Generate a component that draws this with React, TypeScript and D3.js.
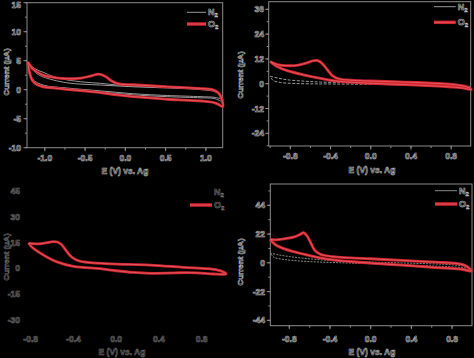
import React from "react";
import * as d3 from "d3";

// ---------- data (E in V, current in µA) ----------
const p1XTicks = [-1.0, -0.5, 0.0, 0.5, 1.0];
const p1YTicks = [-10, -5, 0, 5, 10, 15];
const p2XTicks = [-0.8, -0.4, 0.0, 0.4, 0.8];
const p2YTicks = [-24, -12, 0, 12, 24, 36];
const p3XTicks = [-0.8, -0.4, 0.0, 0.4, 0.8];
const p3YTicks = [-30, -15, 0, 15, 30, 45];
const p4XTicks = [-0.8, -0.4, 0.0, 0.4, 0.8];
const p4YTicks = [-44, -22, 0, 22, 44];

const p1O2: [number, number][] = [
  [-1.21, 4.8], [-1.15, 3.6], [-1.02, 2.5], [-0.88, 2.1], [-0.73, 1.9], [-0.55, 2.0], [-0.42, 2.4],
  [-0.33, 2.7], [-0.25, 2.3], [-0.17, 1.5], [-0.08, 1.0], [0.1, 0.85], [0.3, 0.7], [0.52, 0.5],
  [0.75, 0.35], [0.94, 0.2], [1.08, 0.0], [1.16, -0.6], [1.2, -1.8], [1.21, -2.9],
  [1.12, -2.3], [0.94, -1.95], [0.72, -1.8], [0.52, -1.65], [0.3, -1.4], [0.1, -1.2], [-0.1, -0.9],
  [-0.31, -0.5], [-0.52, -0.2], [-0.73, 0.05], [-0.9, 0.3], [-1.02, 0.5], [-1.1, 0.9], [-1.15, 1.5],
  [-1.19, 3.0], [-1.21, 4.8],
];
const p1N2a: [number, number][] = [
  [-1.21, 4.8], [-1.12, 3.6], [-1.02, 3.0], [-0.88, 2.2], [-0.73, 1.7], [-0.5, 1.3], [-0.31, 1.1],
  [-0.1, 0.8], [0.1, 0.6], [0.52, 0.4], [0.94, 0.1], [1.12, -0.2], [1.18, -0.8], [1.21, -2.0],
  [1.1, -1.5], [0.94, -1.4], [0.52, -1.2], [0.1, -0.9], [-0.31, -0.4], [-0.73, 0.1], [-1.02, 0.6],
  [-1.15, 1.6], [-1.21, 4.8],
];
const p1N2b: [number, number][] = [
  [-1.21, 4.2], [-1.1, 2.8], [-1.02, 2.2], [-0.73, 1.2], [-0.31, 0.8], [0.1, 0.5], [0.52, 0.3],
  [0.94, 0.0], [1.12, -0.4], [1.2, -1.5], [1.1, -1.3], [0.94, -1.2], [0.52, -1.0], [0.1, -0.7],
  [-0.31, -0.2], [-0.73, 0.3], [-1.02, 0.8], [-1.15, 1.8], [-1.21, 4.2],
];

const p2O2: [number, number][] = [
  [-1.0, 10.8], [-0.95, 9.6], [-0.9, 9.0], [-0.8, 8.7], [-0.72, 9.0], [-0.64, 10.0], [-0.58, 11.0],
  [-0.54, 11.3], [-0.5, 10.5], [-0.46, 8.5], [-0.42, 6.0], [-0.38, 3.8], [-0.32, 2.4], [-0.2, 1.7],
  [0.0, 1.3], [0.33, 0.8], [0.67, 0.1], [0.83, -0.4], [0.93, -1.2], [0.98, -2.0], [1.0, -2.9],
  [0.93, -2.2], [0.8, -1.6], [0.67, -1.2], [0.33, -0.4], [0.0, 0.2], [-0.33, 1.2], [-0.5, 2.6],
  [-0.67, 4.3], [-0.83, 6.3], [-0.94, 8.5], [-1.0, 10.8],
];
const p2N2: [number, number][] = [
  [-1.0, 3.6], [-0.92, 2.7], [-0.83, 1.9], [-0.65, 1.2], [-0.5, 0.8], [-0.25, 0.5], [0.0, 0.3],
  [0.4, 0.1], [0.8, -0.4], [0.95, -1.0], [1.0, -1.8], [0.9, -1.4], [0.6, -0.9], [0.2, -0.5],
  [-0.2, -0.2], [-0.5, -0.1], [-0.75, 0.1], [-0.9, 0.6], [-0.97, 1.6], [-1.0, 3.6],
];

const p3O2: [number, number][] = [
  [-0.82, 14.8], [-0.78, 14.4], [-0.72, 14.3], [-0.65, 15.0], [-0.59, 15.6], [-0.55, 15.4],
  [-0.51, 13.8], [-0.47, 10.5], [-0.42, 6.8], [-0.36, 4.6], [-0.27, 3.5], [-0.1, 2.8], [0.01, 2.5],
  [0.32, 1.9], [0.63, 0.6], [0.85, -0.2], [0.95, -1.0], [1.0, -2.0], [1.03, -3.3], [0.91, -3.3],
  [0.75, -2.6], [0.55, -2.6], [0.32, -2.9], [0.16, -2.4], [0.0, -1.4], [-0.15, -0.2], [-0.4, 1.2],
  [-0.56, 3.9], [-0.71, 8.9], [-0.79, 12.5], [-0.82, 14.8],
];
const p3N2: [number, number][] = [
  [-0.82, 5.0], [-0.6, 2.0], [-0.2, 0.8], [0.4, 0.0], [0.9, -1.0], [1.03, -2.0], [0.6, -1.2],
  [0.0, -0.6], [-0.5, 0.2], [-0.82, 5.0],
];

const p4O2: [number, number][] = [
  [-0.99, 17.9], [-0.93, 17.6], [-0.85, 18.4], [-0.76, 19.6], [-0.7, 21.5], [-0.66, 23.0],
  [-0.63, 21.0], [-0.59, 15.5], [-0.55, 9.5], [-0.5, 6.8], [-0.45, 5.6], [-0.35, 4.6], [-0.2, 3.8],
  [0.0, 3.1], [0.31, 1.8], [0.64, 0.5], [0.84, -0.5], [0.92, -1.8], [0.96, -3.6], [0.99, -6.4],
  [0.91, -5.1], [0.64, -3.6], [0.31, -1.8], [0.0, -0.2], [-0.35, 2.0], [-0.51, 4.0], [-0.67, 6.8],
  [-0.84, 10.5], [-0.94, 14.0], [-0.99, 17.9],
];
const p4N2: [number, number][] = [
  [-0.99, 7.5], [-0.9, 6.0], [-0.8, 4.8], [-0.67, 3.6], [-0.5, 2.4], [-0.35, 1.6], [0.0, 0.6],
  [0.4, -0.3], [0.8, -1.5], [0.95, -3.0], [0.99, -4.5], [0.9, -3.6], [0.6, -2.4], [0.2, -1.2],
  [-0.2, -0.2], [-0.5, 0.6], [-0.7, 1.4], [-0.85, 2.6], [-0.95, 4.2], [-0.99, 7.5],
];

const xTitle = "E (V) vs. Ag";
const yTitle = "Current (μA)";

// ---------- layout ----------
type Panel = {
  l: number; r: number; t: number; b: number;
  xd: [number, number]; yd: [number, number];
  xt: number[]; yt: number[]; xMinor: number; yMinor: number;
  o2: [number, number][]; n2: [number, number][][];
  frame: boolean; dim: boolean; n2Color: string; n2Dash?: string;
  xTitle: [number, number]; yTitle: [number, number];
  leg: { x0: number; x1: number; y: number; gap: number };
  tickY: number; labelRight: number;
};

const panels: Panel[] = [
  {
    l: 27, r: 222.7, t: 2.7, b: 147.7, xd: [-1.221, 1.209], yd: [-10, 15],
    xt: p1XTicks, yt: p1YTicks, xMinor: 0.25, yMinor: 2.5,
    o2: p1O2, n2: [p1N2a, p1N2b], frame: true, dim: false, n2Color: "#9a9a9a",
    xTitle: [125, 173.5], yTitle: [6, 72], leg: { x0: 187, x1: 206, y: 12.3, gap: 11.7 },
    tickY: 161, labelRight: 21,
  },
  {
    l: 268.7, r: 470.7, t: 1.7, b: 146, xd: [-1.015, 0.994], yd: [-30.14, 39.68],
    xt: p2XTicks, yt: p2YTicks, xMinor: 0.2, yMinor: 6,
    o2: p2O2, n2: [p2N2], frame: true, dim: false, n2Color: "#9a9a9a", n2Dash: "3,1.5",
    xTitle: [372, 173], yTitle: [240, 75], leg: { x0: 434, x1: 455.7, y: 6.7, gap: 15.6 },
    tickY: 159, labelRight: 264,
  },
  {
    l: 26, r: 228, t: 184, b: 326, xd: [-0.844, 1.047], yd: [-33.7, 49.3],
    xt: p3XTicks, yt: p3YTicks, xMinor: 0.2, yMinor: 7.5,
    o2: p3O2, n2: [p3N2], frame: false, dim: true, n2Color: "#000",
    xTitle: [122, 355], yTitle: [6, 257], leg: { x0: 190, x1: 212, y: 192.3, gap: 12.7 },
    tickY: 342, labelRight: 20,
  },
  {
    l: 270.3, r: 472, t: 184, b: 325.7, xd: [-0.987, 0.996], yd: [-48.1, 60.3],
    xt: p4XTicks, yt: p4YTicks, xMinor: 0.2, yMinor: 11,
    o2: p4O2, n2: [p4N2], frame: true, dim: false, n2Color: "#8a8a8a", n2Dash: "2,1.2",
    xTitle: [372, 355], yTitle: [240, 262], leg: { x0: 435, x1: 457, y: 190.7, gap: 13.3 },
    tickY: 341.5, labelRight: 265,
  },
];

const FONT = "'Liberation Sans', Arial, sans-serif";

function Txt(props: any) {
  const { dim, children, ...rest } = props;
  return (
    <text
      fontFamily={FONT}
      fontWeight="bold"
      fill="#141414"
      stroke={dim ? "#6e6e6e" : "#bdbdbd"}
      strokeWidth={0.55}
      {...rest}
    >
      {children}
    </text>
  );
}

function range(a: number, b: number, step: number) {
  const out: number[] = [];
  const n = Math.floor((b - a) / step + 1e-9);
  for (let i = 0; i <= n; i++) out.push(+(a + i * step).toFixed(6));
  return out;
}

function PanelView({ p }: { p: Panel }) {
  const x = d3.scaleLinear().domain(p.xd).range([p.l, p.r]);
  const y = d3.scaleLinear().domain(p.yd).range([p.b, p.t]);
  const line = d3
    .line<[number, number]>()
    .x((d) => x(d[0]))
    .y((d) => y(d[1]))
    .curve(d3.curveCatmullRom.alpha(0.5));
  const axisColor = "#8c8c8c";
  const xMinors = range(Math.ceil(p.xd[0] / p.xMinor) * p.xMinor, p.xd[1], p.xMinor);
  const yMinors = range(Math.ceil(p.yd[0] / p.yMinor) * p.yMinor, p.yd[1], p.yMinor);
  const fmt = (v: number) => (Math.abs(v) < 1e-9 ? "0.0" : v.toFixed(1));
  const yfmt = (v: number) => String(v);
  const lc = p.leg;
  return (
    <g>
      {p.frame && (
        <g stroke={axisColor} strokeWidth={1} fill="none">
          <rect x={p.l} y={p.t} width={p.r - p.l} height={p.b - p.t} />
          {xMinors.map((v, i) => (
            <line key={"xm" + i} x1={x(v)} x2={x(v)} y1={p.b} y2={p.b + 2} />
          ))}
          {p.xt.map((v, i) => (
            <line key={"xt" + i} x1={x(v)} x2={x(v)} y1={p.b} y2={p.b + 3.5} />
          ))}
          {yMinors.map((v, i) => (
            <line key={"ym" + i} x1={p.l - 2} x2={p.l} y1={y(v)} y2={y(v)} />
          ))}
          {p.yt.map((v, i) => (
            <line key={"yt" + i} x1={p.l - 3.5} x2={p.l} y1={y(v)} y2={y(v)} />
          ))}
        </g>
      )}
      {p.xt.map((v, i) => (
        <Txt key={"xl" + i} dim={p.dim} x={x(v)} y={p.tickY} fontSize={8.5} textAnchor="middle">
          {fmt(v)}
        </Txt>
      ))}
      {p.yt.map((v, i) => (
        <Txt
          key={"yl" + i}
          dim={p.dim}
          x={p.labelRight}
          y={Math.max(y(v) + 3, 7.6)}
          fontSize={8.5}
          textAnchor="end"
        >
          {yfmt(v)}
        </Txt>
      ))}
      <Txt dim={p.dim} x={p.xTitle[0]} y={p.xTitle[1]} fontSize={8.5} textAnchor="middle">
        {xTitle}
      </Txt>
      <Txt
        dim={p.dim}
        fontSize={8}
        textAnchor="middle"
        transform={`translate(${p.yTitle[0] + 3},${p.yTitle[1]}) rotate(-90)`}
      >
        {yTitle}
      </Txt>
      {/* curves */}
      {p.n2.map((d, i) => (
        <path
          key={"n2" + i}
          d={line(d) || ""}
          fill="none"
          stroke={p.n2Color}
          strokeWidth={1}
          strokeDasharray={p.n2Dash}
        />
      ))}
      <path d={line(p.o2) || ""} fill="none" stroke="#d3222c" strokeWidth={2.8} strokeLinejoin="round" />
      <path d={line(p.o2) || ""} fill="none" stroke="#f2a0a4" strokeWidth={0.8} opacity={0.55} />
      {/* legend */}
      <line x1={lc.x0} x2={lc.x1} y1={lc.y} y2={lc.y} stroke={p.n2Color} strokeWidth={1} />
      <Txt dim={p.dim} x={lc.x1 + 2} y={lc.y + 3} fontSize={9}>
        N<tspan fontSize={6} dy={2}>2</tspan>
      </Txt>
      <line x1={lc.x0} x2={lc.x1} y1={lc.y + lc.gap} y2={lc.y + lc.gap} stroke="#d3222c" strokeWidth={3.5} />
      <line x1={lc.x0} x2={lc.x1} y1={lc.y + lc.gap} y2={lc.y + lc.gap} stroke="#f2a0a4" strokeWidth={0.8} opacity={0.55} />
      <Txt dim={p.dim} x={lc.x1 + 2} y={lc.y + lc.gap + 3} fontSize={9}>
        O<tspan fontSize={6} dy={2}>2</tspan>
      </Txt>
    </g>
  );
}

export default function App() {
  return (
    <svg
      width={474}
      height={358}
      style={{ position: "absolute", left: 0, top: 0, background: "#000", display: "block" }}
    >
      <rect x={0} y={0} width={474} height={358} fill="#000" />
      {panels.map((p, i) => (
        <PanelView key={i} p={p} />
      ))}
    </svg>
  );
}
